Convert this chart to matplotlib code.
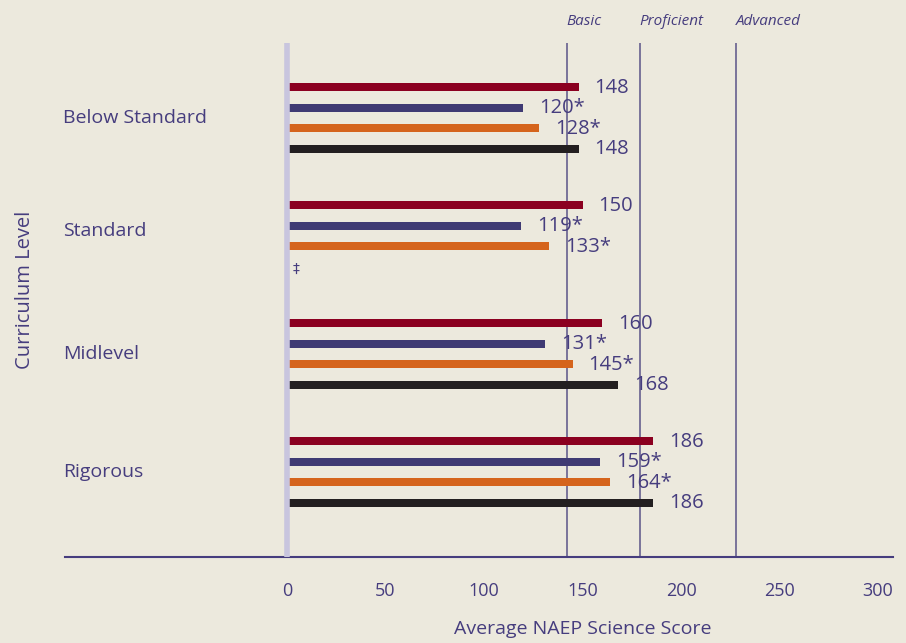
import matplotlib.pyplot as plt
import numpy as np

# data
levels = ["Below Standard", "Standard", "Midlevel", "Rigorous"]
scores_red = [148, 150, 160, 186]
scores_navy = [120, 119, 131, 159]
scores_orange = [128, 133, 145, 164]
scores_black = [148, None, 168, 186]
labels_red = ["148", "150", "160", "186"]
labels_navy = ["120*", "119*", "131*", "159*"]
labels_orange = ["128*", "133*", "145*", "164*"]
labels_black = ["148", "\u2021", "168", "186"]
cut_names = ["Basic", "Proficient", "Advanced"]
cut_scores = [142, 179, 228]
xticks = [0, 50, 100, 150, 200, 250, 300]

bg = "#ece9dd"
txt = "#463d7e"
colors = ["#8b0020", "#3f3a73", "#d5641c", "#231f20"]

plt.rcParams['font.family'] = ['Open Sans', 'DejaVu Sans']

fig = plt.figure(figsize=(9.06, 6.43), dpi=100, facecolor=bg)
W, H = 906, 643
ax = fig.add_axes([65 / W, (H - 557) / H, (893 - 65) / W, (557 - 43) / H])
ax.set_facecolor(bg)

step = 20.5 / 118
offsets = np.array([-1.5, -0.5, 0.5, 1.5]) * step
bar_h = 8.2 / 118
series = [scores_red, scores_navy, scores_orange, scores_black]
labs = [labels_red, labels_navy, labels_orange, labels_black]

for s, (vals, ll, c) in enumerate(zip(series, labs, colors)):
    for i, (v, lab) in enumerate(zip(vals, ll)):
        y = i + offsets[s]
        if v is None:
            ax.text(3, y + 0.02, lab, color=txt, fontsize=10, ha='left', va='center',
                    family=['DejaVu Sans'])
            continue
        ax.barh(y, v, height=bar_h, color=c, zorder=2)
        ax.text(v + 8, y + 0.005, lab, color=txt, fontsize=14.5, ha='left', va='center', zorder=3)

# benchmark lines
for name, cs in zip(cut_names, cut_scores):
    ax.axvline(cs, color="#5a5488", lw=1.1, zorder=1)
    ax.text(cs, -0.636 - 22 / 118, name, color=txt, fontsize=11, style='italic',
            ha='left', va='center', clip_on=False)

# lavender zero bar
ax.axvline(0, color="#c8c5de", lw=4, zorder=3)

ax.set_xlim(-112.7, 307.6)
ax.set_ylim(3.72, -0.636)

label_y = [0.0, -0.04, 0.0, 0.0]
for i, name in enumerate(levels):
    ax.text(-113.5, i + label_y[i], name, color=txt, fontsize=14,
            ha='left', va='center')

for sp in ["top", "right", "left"]:
    ax.spines[sp].set_visible(False)
ax.spines["bottom"].set_color(txt)
ax.spines["bottom"].set_linewidth(1.5)
ax.set_yticks([])
ax.set_xticks(xticks)
ax.tick_params(axis='x', length=0, pad=18, labelsize=13, labelcolor=txt)

fig.text((287 + 150 * 1.97) / W, (H - 629) / H, "Average NAEP Science Score", color=txt,
         fontsize=14, ha='center', va='center')
fig.text(25 / W, (H - 290) / H, "Curriculum Level", color=txt, fontsize=14.5,
         rotation=90, ha='center', va='center')

fig.savefig("out.png", dpi=100, facecolor=bg)
